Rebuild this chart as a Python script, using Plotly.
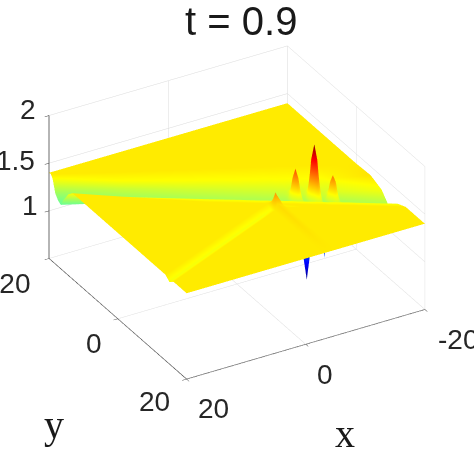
import plotly.graph_objects as go

title_text = "t = 0.9"
x_stations = [20, 12, 4, -1, -3, -4, -5, -7, -7.8, -8.25, -8.6, -8.95, -9.4, -10.1, -10.55, -10.9, -11.25, -11.7,
              -12.4, -12.85, -13.2, -13.55, -14, -15, -20]

y_nodes = [
    [-20] * 25,
    [-19.5, -15.6, -11.7, -9.3, -8.3, -7.8, -7.3, -6.4, -5.9, -5.7, -5.5, -5.35, -5.2, -4.9, -4.6, -4.4, -4.2, -4.0, -3.7, -3.45, -3.3, -3.15, -3.0, -2.4, 0.0],
    [-19.0, -13.6, -9.1, -6.4, -5.2, -4.7, -4.1, -3.1, -2.5, -2.3, -2.1, -1.9, -1.7, -1.3, -1.0, -0.8, -0.6, -0.4, 0.0, 0.2, 0.4, 0.6, 0.8, 1.5, 4.2],
    [-18.2, -13.2, -8.0, -4.8, -3.5, -2.9, -2.2, -1.0, -0.4, -0.15, 0.1, 0.35, 0.6, 1.0, 1.3, 1.6, 1.85, 2.1, 2.5, 2.8, 3.0, 3.25, 3.5, 4.2, 7.4],
    [-17.4, -12.0, -6.8, -3.6, -2.3, -1.7, -1.0, 0.2, 0.8, 1.05, 1.3, 1.55, 1.8, 2.2, 2.5, 2.8, 3.05, 3.3, 3.7, 4.0, 4.2, 4.45, 4.7, 5.4, 8.6],
    [-16.6, -11.2, -6.0, -2.8, -1.5, -0.9, -0.2, 1.0, 1.6, 1.85, 2.1, 2.35, 2.6, 3.0, 3.3, 3.6, 3.85, 4.1, 4.5, 4.8, 5.0, 5.25, 5.5, 6.2, 9.4],
    [-15.8, -10.4, -5.2, -2.0, -0.7, -0.1, 0.6, 1.8, 2.4, 2.65, 2.9, 3.15, 3.4, 3.8, 4.1, 4.4, 4.65, 4.9, 5.3, 5.6, 5.8, 6.05, 6.3, 7.0, 10.2],
    [-15.2, -9.8, -4.6, -1.4, -0.1, 0.5, 1.2, 2.4, 3.0, 3.25, 3.5, 3.75, 4.0, 4.4, 4.7, 5.0, 5.25, 5.1, 5.9, 6.2, 6.4, 6.65, 6.9, 7.6, 10.8],
    [-14.4, -8.5, -3.3, -0.1, 1.2, 1.8, 2.5, 3.7, 4.3, 4.55, 4.8, 5.05, 5.3, 5.7, 6.0, 6.3, 6.55, 6.8, 7.2, 7.5, 7.7, 7.95, 8.2, 8.9, 12.1],
    [-13.2, -7.0, -1.0, 2.2, 3.5, 3.5, 4.8, 6.0, 6.6, 6.85, 7.1, 7.35, 7.6, 8.0, 8.3, 8.6, 8.85, 9.1, 9.5, 9.8, 10.0, 10.25, 10.5, 11.2, 14.4],
    [13.8, 10.2, 6.6, 4.35, 3.6, 3.6, 4.9, 6.4, 7.0, 7.25, 7.5, 7.75, 8.0, 8.4, 8.7, 9.0, 9.25, 9.5, 9.9, 10.2, 10.4, 10.65, 10.9, 11.6, 14.8],
    [15.0, 11.4, 7.8, 5.55, 4.65, 4.2, 5.2, 6.8, 7.4, 7.65, 7.9, 8.15, 8.4, 8.8, 9.1, 9.4, 9.65, 9.9, 10.3, 10.6, 10.8, 11.05, 11.3, 12.0, 15.2],
    [16.2, 12.6, 9.0, 6.75, 5.85, 4.8, 5.6, 7.4, 8.0, 8.25, 8.5, 8.75, 9.0, 9.4, 9.7, 10.0, 10.25, 10.5, 10.9, 11.2, 11.4, 11.65, 11.9, 12.6, 15.8],
    [20] * 25,
]

z_nodes = [
    [1.4] * 25,
    [1.4] * 25,
    [1.37, 1.37, 1.37, 1.37, 1.37, 1.37, 1.37, 1.37, 1.37, 1.37, 1.37, 1.37, 1.37, 1.37, 1.37, 1.37, 1.37, 1.37, 1.37, 1.37, 1.37, 1.37, 1.37, 1.38, 1.41],
    [1.24, 1.30, 1.31, 1.31, 1.31, 1.31, 1.31, 1.31, 1.31, 1.31, 1.32, 1.31, 1.31, 1.31, 1.31, 1.33, 1.31, 1.31, 1.31, 1.31, 1.32, 1.31, 1.31, 1.33, 1.36],
    [1.19, 1.24, 1.265, 1.27, 1.27, 1.27, 1.27, 1.27, 1.27, 1.32, 1.42, 1.32, 1.27, 1.27, 1.36, 1.56, 1.36, 1.27, 1.27, 1.31, 1.4, 1.31, 1.27, 1.27, 1.3],
    [1.17, 1.22, 1.25, 1.26, 1.26, 1.26, 1.26, 1.26, 1.26, 1.52, 1.62, 1.52, 1.28, 1.28, 1.72, 1.88, 1.72, 1.28, 1.27, 1.49, 1.56, 1.49, 1.26, 1.26, 1.26],
    [1.25, 1.28, 1.29, 1.29, 1.29, 1.29, 1.29, 1.29, 1.29, 1.32, 1.42, 1.32, 1.29, 1.29, 1.36, 1.56, 1.36, 1.29, 1.29, 1.31, 1.4, 1.31, 1.29, 1.29, 1.29],
    [1.29, 1.31, 1.31, 1.31, 1.31, 1.31, 1.31, 1.31, 1.31, 1.2, 0.95, 0.75, 0.5, 0.95, 1.25, 1.31, 1.31, 0.72, 1.31, 1.31, 1.31, 1.31, 1.31, 1.31, 1.31],
    [1.35] + [1.36] * 24,
    [1.4] * 25,
    [1.4, 1.4, 1.4, 1.4, 1.4, 1.42] + [1.4] * 19,
    [1.36, 1.36, 1.36, 1.36, 1.37, 1.52, 1.38] + [1.4] * 18,
    [1.4, 1.4, 1.4, 1.4, 1.4, 1.42] + [1.4] * 19,
    [1.4] * 25,
]

x_ticks = [-20, 0, 20]
y_ticks = [-20, 0, 20]
z_ticks = [1, 1.5, 2]
x_tick_labels = ["-20", "0", "20"]
y_tick_labels = ["-20", "0", "20"]
z_tick_labels = ["1", "1.5", "2"]

jet = [
    [0.0, "rgb(0,0,143)"], [0.125, "rgb(0,0,255)"], [0.375, "rgb(0,255,255)"],
    [0.625, "rgb(255,255,0)"], [0.875, "rgb(255,0,0)"], [1.0, "rgb(128,0,0)"],
]

fig = go.Figure(go.Surface(
    x=x_stations, y=y_nodes, z=z_nodes,
    colorscale=jet, cmin=0.5, cmax=1.9, showscale=False,
    lighting=dict(ambient=1, diffuse=0, specular=0, roughness=1, fresnel=0),
    hoverinfo="skip",
))

ax_common = dict(
    showbackground=False, showgrid=True, gridcolor="rgb(218,218,218)", gridwidth=1,
    zeroline=False, showline=True, linecolor="rgb(60,60,60)", linewidth=1.5,
    ticks="outside", ticklen=5, tickcolor="rgb(60,60,60)", showspikes=False,
    showticklabels=False,
    title=dict(text=""),
)

tick_font = dict(family="Liberation Sans", size=28, color="rgb(38,38,38)")
scene_notes = []
for v, t, sx, sy in zip(x_ticks, x_tick_labels, [33, 19, 27], [30, 30, 30]):
    scene_notes.append(dict(x=v, y=20, z=0.5, text=t, showarrow=False, xshift=sx, yshift=-sy, font=tick_font))
for v, t, sx, sy in zip(y_ticks, y_tick_labels, [-39, -24, -32], [25, 25, 23]):
    scene_notes.append(dict(x=20, y=v, z=0.5, text=t, showarrow=False, xshift=sx, yshift=-sy, font=tick_font))
for v, t, sx, sy in zip(z_ticks, z_tick_labels, [-19, -34, -21], [-5, -3, -6]):
    scene_notes.append(dict(x=20, y=-20, z=v, text=t, showarrow=False, xshift=sx, yshift=-sy, font=tick_font))

R = 1.8
fig.update_layout(
    width=474, height=474,
    margin=dict(l=0, r=0, t=0, b=0),
    paper_bgcolor="white",
    title=dict(text=title_text, x=0.509, xanchor="center", y=0.955, yanchor="middle",
               font=dict(family="Liberation Sans", size=40, color="rgb(25,25,25)")),
    scene=dict(
        domain=dict(x=[0, 1], y=[0.104, 1]),
        xaxis=dict(range=[-20, 20], tickvals=x_ticks, **ax_common),
        yaxis=dict(range=[-20, 20], tickvals=y_ticks, **ax_common),
        zaxis=dict(range=[0.5, 2], tickvals=z_ticks, **ax_common),
        aspectmode="manual",
        aspectratio=dict(x=1.295, y=1.295, z=0.78),
        annotations=scene_notes,
        camera=dict(
            projection=dict(type="orthographic"),
            up=dict(x=0, y=0, z=1),
            center=dict(x=0, y=0, z=0),
            eye=dict(x=0.431 * R, y=0.747 * R, z=0.506 * R),
        ),
    ),
    annotations=[
        dict(text="x", x=345 / 474, y=1 - 433 / 474, xref="paper", yref="paper", showarrow=False,
             xanchor="center", yanchor="middle",
             font=dict(family="Liberation Serif", size=40, color="rgb(25,25,25)")),
        dict(text="y", x=54 / 474, y=1 - 424 / 474, xref="paper", yref="paper", showarrow=False,
             xanchor="center", yanchor="middle",
             font=dict(family="Liberation Serif", size=40, color="rgb(25,25,25)")),
    ],
)

fig.write_html("out.html", config={"displayModeBar": False},
               post_script="document.body.style.margin='0';document.body.style.overflow='hidden';")
